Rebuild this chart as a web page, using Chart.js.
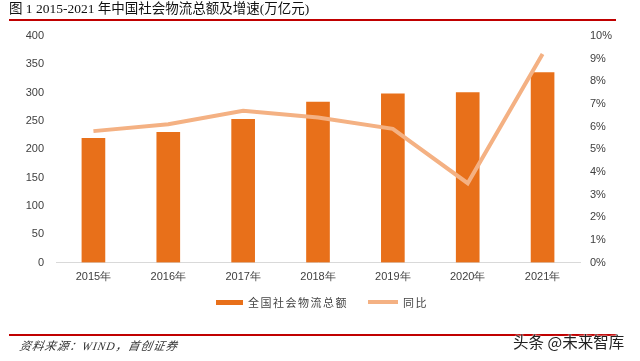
<!DOCTYPE html>
<html>
<head>
<meta charset="utf-8">
<script src="https://cdn.jsdelivr.net/npm/chart.js@4.4.1/dist/chart.umd.min.js"></script>
<style>
  html, body { margin: 0; padding: 0; background: #fff; }
  #wrap { position: relative; width: 640px; height: 361px; overflow: hidden; }
  #c { position: absolute; left: 0; top: 0; }
  .title { position: absolute; left: 9px; top: 0px; font-family: "Liberation Serif", "Noto Sans CJK SC", serif; font-size: 13.5px; line-height: 18px; color: #111; white-space: nowrap; }
  .rule { position: absolute; height: 2px; background: #c00000; }
  .legend { position: absolute; top: 294px; left: 0; width: 640px; font-family: "Noto Sans CJK SC", sans-serif; font-size: 11px; color: #444; }
  .lg { position: absolute; display: flex; align-items: center; white-space: nowrap; letter-spacing: 1.5px; }
  .sw { display: inline-block; width: 27px; margin-right: 5px; }
  .source { position: absolute; left: 20px; top: 337px; font-family: "Noto Sans CJK SC", "Liberation Serif", serif; font-size: 11.5px; font-style: italic; color: #333; letter-spacing: 1px; white-space: nowrap; transform: skewX(-10deg); }
  .source .lat { font-family: "Liberation Serif", serif; }
  .wm { position: absolute; left: 513px; top: 330px; font-family: "Noto Sans CJK SC", sans-serif; font-size: 15.5px; color: #222; white-space: nowrap; text-shadow: 0 0 2px #fff, 0 0 2px #fff; }
</style>
</head>
<body>
<div id="wrap">
  <canvas id="c" width="640" height="361"></canvas>
  <div class="title">图 1 2015-2021 年中国社会物流总额及增速(万亿元)</div>
  <div class="rule" style="left:9px; top:19px; width:607px;"></div>
  <div class="legend">
    <div class="lg" style="left:216px;"><span class="sw" style="height:5px;background:#E8701A;"></span>全国社会物流总额</div>
    <div class="lg" style="left:368px;"><span class="sw" style="height:4px;background:#F4B183;width:30px;"></span>同比</div>
  </div>
  <div class="rule" style="left:9px; top:334px; width:607px;"></div>
  <div class="source">资料来源：<span class="lat">WIND</span>，首创证券</div>
  <div class="wm">头条 @未来智库</div>
</div>
<script>
const categories = ["2015年", "2016年", "2017年", "2018年", "2019年", "2020年", "2021年"];
const totalValues = [219.2, 229.7, 252.8, 283.1, 298.0, 300.1, 335.2];
const yoyValues = [5.8, 6.1, 6.7, 6.4, 5.9, 3.5, 9.2];
const leftTicks = [0, 50, 100, 150, 200, 250, 300, 350, 400];
const rightTicks = [0, 1, 2, 3, 4, 5, 6, 7, 8, 9, 10];

const tickFont = { family: "'Liberation Sans', Arial, sans-serif", size: 11 };
const tickColor = "#404040";

new Chart(document.getElementById("c"), {
  data: {
    labels: categories,
    datasets: [
      {
        type: "line",
        label: "同比",
        data: yoyValues,
        yAxisID: "y1",
        borderColor: "#F4B183",
        borderWidth: 4,
        pointRadius: 0,
        tension: 0,
        fill: false,
        order: 0
      },
      {
        type: "bar",
        label: "全国社会物流总额",
        data: totalValues,
        yAxisID: "y",
        backgroundColor: "#E8701A",
        barThickness: 23,
        order: 1
      }
    ]
  },
  options: {
    responsive: false,
    animation: false,
    devicePixelRatio: 1,
    layout: { padding: { left: 0, right: 0, top: 36, bottom: 0 } },
    plugins: { legend: { display: false }, tooltip: { enabled: false } },
    scales: {
      x: {
        grid: { display: false, drawTicks: false },
        border: { display: true, color: "#D9D9D9", width: 1 },
        ticks: { font: tickFont, color: tickColor, padding: 8, maxRotation: 0 },
        afterFit(s) { s.height = 98.5; }
      },
      y: {
        position: "left",
        min: 0, max: 400,
        afterBuildTicks(s) { s.ticks = leftTicks.map(v => ({ value: v })); },
        grid: { display: false, drawTicks: false },
        border: { display: false },
        ticks: { font: tickFont, color: tickColor, padding: 12 },
        afterFit(s) { s.width = 56; }
      },
      y1: {
        position: "right",
        min: 0, max: 10,
        afterBuildTicks(s) { s.ticks = rightTicks.map(v => ({ value: v })); },
        grid: { display: false, drawTicks: false },
        border: { display: false },
        ticks: { font: tickFont, color: tickColor, padding: 10, callback: v => v + "%" },
        afterFit(s) { s.width = 60; }
      }
    }
  }
});
</script>
</body>
</html>
